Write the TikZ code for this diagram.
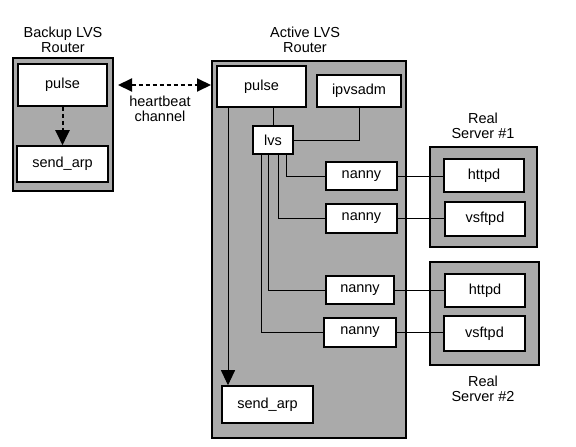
\documentclass[tikz,border=0pt]{standalone}
\usepackage{fontspec}
\setmainfont{Liberation Sans}
\usetikzlibrary{arrows.meta}
\definecolor{boxgray}{HTML}{AAAAAA}
\begin{document}
\begin{tikzpicture}[x=1pt,y=-1pt,
  font=\fontsize{14.5}{15}\selectfont,
  outer/.style={draw=black,fill=boxgray,line width=2pt,inner sep=0pt},
  inbox/.style={draw=black,fill=white,line width=1.6pt,inner sep=0pt},
  lab/.style={align=center,inner sep=0pt},
  conn/.style={line width=1pt},
  bigtip/.style={-{Triangle[length=15pt,width=14pt]}}]
\useasboundingbox[fill=white] (0,0) rectangle (576,447);
% outer boxes
\node[outer,minimum width=100pt,minimum height=133pt] (backup) at (63,124.5) {};
\node[outer,minimum width=194pt,minimum height=377pt] (active) at (309,249.5) {};
\node[outer,minimum width=107pt,minimum height=100pt] (rs1) at (483.5,197) {};
\node[outer,minimum width=109pt,minimum height=103pt] (rs2) at (484.5,313.5) {};
% labels
\node[lab] (lbackup) at (63,40) {Backup LVS\\Router};
\node[lab] (lactive) at (305,40) {Active LVS\\Router};
\node[lab] (lrs1) at (483,126) {Real\\Server \#1};
\node[lab] (lrs2) at (483,389) {Real\\Server \#2};
\node[lab] (lhb) at (160,109) {heartbeat\\channel};
% backup router
\node[inbox,minimum width=89pt,minimum height=42pt] (bpulse) at (62.5,85) {pulse};
\node[inbox,minimum width=91pt,minimum height=36pt] (bsend) at (62.5,164) {send\_arp};
% active router
\node[inbox,minimum width=89pt,minimum height=41pt] (apulse) at (261.5,86.5) {pulse};
\node[inbox,minimum width=84pt,minimum height=32pt] (ipvsadm) at (359,91) {ipvsadm};
\node[inbox,minimum width=40pt,minimum height=28pt] (lvs) at (273,140) {lvs};
\node[inbox,minimum width=71pt,minimum height=28pt] (n1) at (361.5,176) {nanny};
\node[inbox,minimum width=71pt,minimum height=29pt] (n2) at (361.5,218.5) {nanny};
\node[inbox,minimum width=68pt,minimum height=28pt] (n3) at (360,290) {nanny};
\node[inbox,minimum width=72pt,minimum height=29pt] (n4) at (360,332.5) {nanny};
\node[inbox,minimum width=91pt,minimum height=37pt] (asend) at (267.5,404.5) {send\_arp};
% real servers
\node[inbox,minimum width=80pt,minimum height=33pt] (h1) at (484,175.5) {httpd};
\node[inbox,minimum width=80pt,minimum height=34pt] (v1) at (485,219) {vsftpd};
\node[inbox,minimum width=80pt,minimum height=33pt] (h2) at (485,290.5) {httpd};
\node[inbox,minimum width=81pt,minimum height=35pt] (v2) at (484.5,333.5) {vsftpd};
% heartbeat
\draw[line width=2pt,dash pattern=on 4pt off 3pt,
  {Triangle[length=14pt,width=13pt]}-{Triangle[length=14pt,width=13pt]}]
  ([xshift=4pt]bpulse.east -| backup.east) -- (bpulse.east -| active.west);
% backup pulse -> send_arp
\draw[line width=2pt,dash pattern=on 4pt off 3pt,bigtip]
  (bpulse.south) -- (bsend.north);
% active connections
\draw[conn,bigtip] ([xshift=-33.5pt]apulse.south) -- ([xshift=-33.5pt]apulse.south |- asend.north);
\draw[conn] (lvs.north |- apulse.south) -- (lvs.north);
\draw[conn] (ipvsadm.south) |- (lvs.east);
\draw[conn] ([xshift=13pt]lvs.south) |- (n1.west);
\draw[conn] ([xshift=5pt]lvs.south) |- (n2.west);
\draw[conn] ([xshift=-5pt]lvs.south) |- (n3.west);
\draw[conn] ([xshift=-12pt]lvs.south) |- (n4.west);
\draw[conn] (n1.east) -- (n1.east -| h1.west);
\draw[conn] (n2.east) -- (n2.east -| v1.west);
\draw[conn] (n3.east) -- (n3.east -| h2.west);
\draw[conn] (n4.east) -- (n4.east -| v2.west);
\end{tikzpicture}
\end{document}
